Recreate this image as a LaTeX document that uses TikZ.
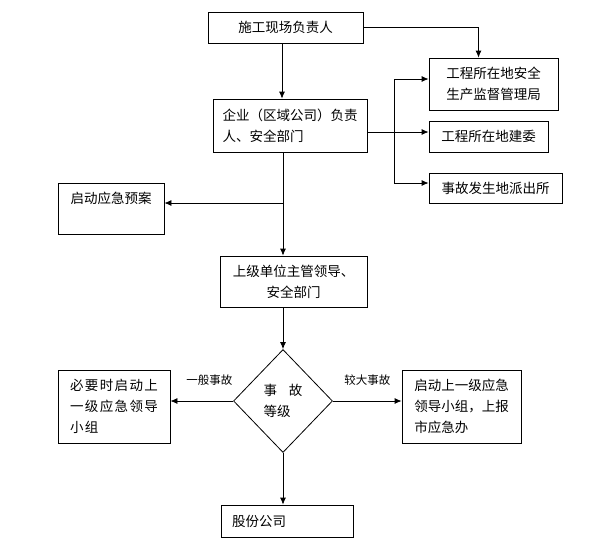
\documentclass[tikz,border=0pt]{standalone}
\usepackage{fontspec}
\newfontfamily\cjk{Noto Sans CJK SC}
\newfontfamily\cjkwide[LetterSpace=10]{Noto Sans CJK SC}
\usetikzlibrary{arrows.meta,positioning,shapes.geometric}
\tikzset{
  box/.style={draw,line width=0.8pt,align=left,inner sep=0pt,
    font=\cjk\fontsize{13.5}{21}\selectfont},
  decision/.style={diamond,draw,line width=0.8pt,align=left,inner sep=0pt,
    font=\cjk\fontsize{13.5}{21}\selectfont},
  tag/.style={font=\cjk\fontsize{11.5}{13}\selectfont,inner sep=0pt},
  arrow/.style={-{Latex[length=7pt,width=6pt]},line width=0.8pt}
}

\begin{document}
\begin{tikzpicture}[x=1pt,y=-1pt]
  \useasboundingbox (0,0) rectangle (590,544);
  % chain of reporting
  \node[box,minimum width=155pt,minimum height=31pt] (site) at (285.5,27.5) {施工现场负责人};
  \node[box,minimum width=154pt,minimum height=53pt] (corp) at (290,125.5) {企业（区域公司）负责\\人、安全部门};
  \node[box,minimum width=129pt,minimum height=52pt] (safety) at (493.5,84) {工程所在地安全\\生产监督管理局};
  \node[box,minimum width=119pt,minimum height=31pt] (jianwei) at (488.5,136.5) {工程所在地建委};
  \node[box,minimum width=133pt,minimum height=30pt] (police) at (495.5,188) {事故发生地派出所};
  \node[box,minimum width=106pt,minimum height=51pt] (plan) at (111,208.5) {启动应急预案\\\mbox{}};
  \node[box,minimum width=147pt,minimum height=51pt,align=center] (upper) at (293.5,281.5) {上级单位主管领导、\\安全部门};
  \node[decision,minimum width=99pt,minimum height=103pt] (level) at (283,401) {事\hspace{12pt}故\\等级};
  \node[box,minimum width=112pt,minimum height=73pt,
    font=\cjkwide\fontsize{13.5}{21}\selectfont] (minor) at (114,406.5) {必要时启动上\\一级应急领导\\小组};
  \node[box,minimum width=119pt,minimum height=73pt] (major) at (461.5,406.5) {启动上一级应急\\领导小组，上报\\市应急办};
  \node[box,minimum width=132pt,minimum height=32pt,text width=110pt] (group) at (287,521) {股份公司};

  % connectors
  \coordinate (bus) at (394,132);
  \coordinate (split) at (283,203);
  \draw[arrow] ([xshift=-3.5pt]site.south) -- ([xshift=-3.5pt]site.south |- corp.north);
  \draw[arrow] (site.east) -| ([xshift=-15pt]safety.north);
  \draw ([yshift=-6.5pt]corp.east) -- (bus);
  \draw[arrow] (bus) -- (bus -| jianwei.west);
  \draw[arrow] (bus) |- ([yshift=5pt]safety.west);
  \draw[arrow] (bus) |- ([yshift=5pt]police.west);
  \draw (corp.south -| split) -- (split);
  \draw[arrow] (split) -- (split -| plan.east);
  \draw[arrow] (split) -- (split |- upper.north);
  \draw[arrow] (upper.south -| level.north) -- (level.north);
  \draw[arrow] (level.west) -- node[tag,above=15pt,pos=0.38]{一般事故} (level.west -| minor.east);
  \draw[arrow] (level.east) -- node[tag,above=15pt]{较大事故} (level.east -| major.west);
  \draw[arrow] (level.south) -- (level.south |- group.north);
\end{tikzpicture}
\end{document}
